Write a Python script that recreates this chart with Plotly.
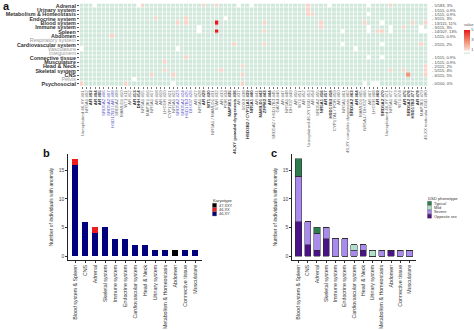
import plotly.graph_objects as go

W, H = 474, 330


def fx(p):
    return p / W


def fy(p):
    return 1 - p / H


# ---------------- panel a: anomaly heatmap ----------------
ROW_NAMES = ["Adrenal", "Urinary system", "Metabolism & Homeostasis", "Endocrine system",
             "Blood system", "Immune system", "Spleen", "Abdomen", "Respiratory system",
             "Cardiovascular system", "Vasculature", "Integument", "Connective tissue",
             "Musculature", "Head & Neck", "Skeletal system", "CNS", "Pelvis", "Psychosocial"]
GREY_ROWS = ["Respiratory system", "Vasculature", "Integument", "Pelvis"]

ROW_COUNTS = {
    "Adrenal": "5/183, 3%", "Urinary system": "1/115, 0.9%",
    "Metabolism & Homeostasis": "1/115, 0.9%", "Endocrine system": "3/115, 3%",
    "Blood system": "13/115, 11%", "Immune system": "3/115, 3%",
    "Spleen": "14/107, 13%", "Abdomen": "1/115, 0.9%",
    "Cardiovascular system": "2/115, 2%", "Connective tissue": "1/115, 0.9%",
    "Musculature": "1/115, 0.9%", "Head & Neck": "2/115, 2%",
    "Skeletal system": "5/115, 4%", "CNS": "6/115, 5%", "Psychosocial": "0/100, 0%",
}

COLUMN_LABELS = [
    "Unexplained 46,XY #01", "NR5A1 #02", "AR #03", "AR #04", "AR #05", "SRD5A2 #06",
    "SRD5A2 #07", "HSD17B3 / AR #08", "SRD5A2 #09", "MAMLD1 #10", "WT1 #11", "AR #12",
    "AR #13", "DHH #14", "NR5A1 #15", "MAP3K1 #16", "NR5A1 #17", "AR #18", "AR #19",
    "LHCGR #20", "CYP17A1 #21", "NR5A1 #22", "SRD5A2 #23", "SRD5A2 #24", "HSD17B3 #25",
    "DHX37 #26", "AR #27", "NR5A1 #28", "AR #29", "WT1 #30", "NR5A1 / MAMLD1 #31",
    "STAR #32", "AR #33", "POR #34", "MAP3K1 #35", "46,XY gonadal dysgenesis #36",
    "AR #37", "SOX9 #38", "HSD3B2 / CYP11A1 #39", "NR5A1 #40", "AR #41", "MAMLD1 #42",
    "ZFPM2 #43", "AR #44", "SRD5A2 / HSD17B3 #45", "GATA4 #46", "AR #47", "NR5A1 #48",
    "DHX37 #49", "AR #50", "WT1 #51", "AR #52", "Unexplained 46,XY DSD #53", "AR #54",
    "SRD5A2 #55", "NR5A1 #56", "AR #57", "HSD17B3 #58", "CYP17A1 / POR #59", "AR #60",
    "NR5A1 #61", "46,XY complete dysgenesis #62", "SRD5A2 #63", "AR #64", "MAMLD1 #65",
    "NR5A1 / DHX37 #66", "AR #67", "LHCGR #68", "AR #69", "SRD5A2 #70",
    "Unexplained 46,XY #71", "NR5A1 #72", "AR #73", "WT1 #74", "AR #75", "SRD5A2 #76",
    "HSD17B3 #77", "AR #78", "MAP3K1 #79", "46,XX testicular DSD #80",
]
BLUE_COLUMNS = [5, 6, 7, 22, 23, 24, 25]
BOLD_COLUMNS = [2, 3, 4, 12, 13, 28, 29, 34, 35, 38, 39, 41, 42, 43, 55, 56, 57, 62,
                63, 68, 69, 74, 75, 76, 77]

# (row, column) of cells with a recorded anomaly; everything else is 0
MILD_CELLS = [(0, 14), (3, 17), (7, 7), (18, 0), (18, 10), (16, 16), (0, 28), (0, 31),
              (0, 52), (4, 22), (3, 24), (4, 24), (4, 42), (6, 42), (9, 42), (9, 35),
              (12, 24), (13, 19), (15, 19), (16, 21), (15, 32), (14, 37), (16, 37),
              (18, 37), (2, 52), (0, 71), (1, 52), (2, 53), (4, 55), (5, 55), (4, 65),
              (6, 68), (6, 69), (5, 74), (4, 76), (4, 79), (9, 78), (15, 71), (15, 74),
              (14, 79), (15, 79), (16, 79)]
MEDIUM_CELLS = [(16, 75)]
STRONG_CELLS = [(4, 31), (6, 31)]
EMPTY_CELLS = [(0, 3), (0, 13), (10, 0), (17, 12), (0, 36), (0, 39), (3, 33), (5, 27),
               (6, 27), (10, 22), (18, 21), (0, 57), (0, 66), (2, 66), (5, 66), (6, 66),
               (4, 69), (5, 71), (6, 71), (5, 78), (6, 78), (6, 79), (6, 60), (9, 60),
               (9, 69), (10, 63), (12, 66), (12, 69), (18, 65), (18, 67), (18, 68)]
MILD_VALUE, MEDIUM_VALUE, STRONG_VALUE = 1, 2.5, 5

# ---------------- panels b and c: stacked counts ----------------
CATEGORIES = ["Blood system & Spleen", "CNS", "Adrenal", "Skeletal system",
              "Immune system", "Endocrine system", "Cardiovascular system",
              "Head & Neck", "Urinary system", "Metabolism & Homeostasis",
              "Abdomen", "Connective tissue", "Musculature"]

KARYO_46XY = [16, 6, 4, 5, 3, 3, 2, 2, 1, 1, 0, 1, 1]
KARYO_46XX = [1, 0, 1, 0, 0, 0, 0, 0, 0, 0, 0, 0, 0]
KARYO_47XXY = [0, 0, 0, 0, 0, 0, 0, 0, 0, 0, 1, 0, 0]

DSD_OPPOSITE = [6, 2, 1, 3, 0, 0, 0, 1, 0, 0, 1, 0, 0]
DSD_SEVERE = [8, 4, 3, 2, 3, 3, 1, 1, 0, 1, 0, 1, 1]
DSD_MILD = [0, 0, 0, 0, 0, 0, 1, 0, 1, 0, 0, 0, 0]
DSD_TYPICAL = [3, 0, 1, 0, 0, 0, 0, 0, 0, 0, 0, 0, 0]

KARYO_SERIES = [("46,XY", KARYO_46XY, "#00007F"), ("46,XX", KARYO_46XX, "#EE1C1C"),
                ("47,XXY", KARYO_47XXY, "#000000")]
DSD_SERIES = [("Opposite sex", DSD_OPPOSITE, "#4A1486"), ("Severe", DSD_SEVERE, "#A98BEE"),
              ("Mild", DSD_MILD, "#AEE0CC"), ("Typical", DSD_TYPICAL, "#2E7D4F")]

FONT = "Liberation Sans"

# build the heatmap matrix
n_rows, n_cols = len(ROW_NAMES), len(COLUMN_LABELS)
z = [[0.0] * n_cols for _ in range(n_rows)]
for r, c in MILD_CELLS:
    z[r][c] = MILD_VALUE
for r, c in MEDIUM_CELLS:
    z[r][c] = MEDIUM_VALUE
for r, c in STRONG_CELLS:
    z[r][c] = STRONG_VALUE
for r, c in EMPTY_CELLS:
    z[r][c] = None

col_text = []
for i, lab in enumerate(COLUMN_LABELS):
    if i in BLUE_COLUMNS:
        col_text.append(f"<span style='color:#5A55C8'>{lab}</span>")
    elif i in BOLD_COLUMNS:
        col_text.append(f"<b><span style='color:#333'>{lab}</span></b>")
    else:
        col_text.append(lab)

row_text = []
for name in ROW_NAMES:
    if name in GREY_ROWS:
        row_text.append(f"<span style='color:#9a9a9a'>{name}</span>")
    else:
        row_text.append(f"<b>{name}</b>")

fig = go.Figure()

fig.add_trace(go.Heatmap(
    z=z, x=list(range(n_cols)), y=list(range(n_rows)),
    zmin=0, zmax=STRONG_VALUE,
    colorscale=[[0, "#D0E8DB"], [0.1, "#FFFFFF"], [0.2, "#F8D3C7"],
                [0.55, "#F18A70"], [1, "#E3191B"]],
    xgap=0.7, ygap=0.7, hoverongaps=False,
    colorbar=dict(x=fx(464), xanchor="left", y=fy(20), yanchor="top",
                  len=34, lenmode="pixels", thickness=6, outlinewidth=0,
                  xpad=0, ypad=0,
                  ticks="", tickfont=dict(size=4, color="#555"),
                  tickvals=[1, 3, 5],
                  title=dict(text="value", font=dict(size=4, color="#555"), side="top")),
    xaxis="x", yaxis="y",
))

for name, vals, color in KARYO_SERIES:
    fig.add_trace(go.Bar(x=CATEGORIES, y=vals, name=name, marker_color=color,
                         marker_line_width=0, width=0.66, showlegend=False,
                         xaxis="x2", yaxis="y2"))

for name, vals, color in DSD_SERIES:
    fig.add_trace(go.Bar(x=CATEGORIES, y=vals, name=name, marker_color=color,
                         marker_line=dict(color="#2a2a2a", width=0.5), width=0.66,
                         showlegend=False, xaxis="x3", yaxis="y3"))

bar_xaxis = dict(type="category", range=[-0.7, len(CATEGORIES) - 0.3], tickangle=-90,
                 tickfont=dict(size=5.3, color="#333"), ticks="outside", ticklen=2,
                 tickwidth=0.5, tickcolor="#333", showline=True, linecolor="#222",
                 linewidth=0.6, showgrid=False, zeroline=False, automargin=False)
bar_yaxis = dict(range=[-0.7, 17.85], tickvals=[0, 5, 10, 15],
                 tickfont=dict(size=5, color="#444"), ticks="outside", ticklen=2,
                 tickwidth=0.5, tickcolor="#333", showline=True, linecolor="#222",
                 linewidth=0.6, showgrid=False, zeroline=False, automargin=False,
                 title=dict(text="Number of individuals with anomaly",
                            font=dict(size=5, color="#333"), standoff=4))

fig.update_layout(
    width=W, height=H, margin=dict(l=0, r=0, t=0, b=0, autoexpand=False),
    paper_bgcolor="white", plot_bgcolor="white",
    font=dict(family=FONT, color="#333"),
    barmode="stack", showlegend=False,
    xaxis=dict(domain=[fx(80), fx(428)], range=[-0.5, n_cols - 0.5], anchor="y",
               tickmode="array", tickvals=list(range(n_cols)), ticktext=col_text,
               tickangle=-90, tickfont=dict(size=4.4, color="#666"), ticks="outside",
               ticklen=1.5, tickwidth=0.4, tickcolor="#777", showgrid=False,
               zeroline=False, showline=False, automargin=False),
    yaxis=dict(domain=[fy(86), fy(3.5)], range=[n_rows - 0.5, -0.5], anchor="x",
               tickmode="array", tickvals=list(range(n_rows)), ticktext=row_text,
               tickfont=dict(size=5.4, color="#333"), ticks="outside", ticklen=2,
               tickwidth=0.4, tickcolor="#555", showgrid=False, zeroline=False,
               automargin=False),
    xaxis2=dict(domain=[fx(68), fx(202)], anchor="y2", **bar_xaxis),
    yaxis2=dict(domain=[fy(260), fy(154)], anchor="x2", **bar_yaxis),
    xaxis3=dict(domain=[fx(292), fx(416)], anchor="y3", **bar_xaxis),
    yaxis3=dict(domain=[fy(260), fy(154)], anchor="x3", **bar_yaxis),
)

annotations = []
for i, name in enumerate(ROW_NAMES):
    if name in ROW_COUNTS:
        annotations.append(dict(x=fx(430), xref="paper", y=i, yref="y", xanchor="left",
                                yanchor="middle", showarrow=False,
                                text="- " + ROW_COUNTS[name],
                                font=dict(size=4, color="#444")))

for label, px, py in [("a", 2, 6), ("b", 42, 153), ("c", 270, 153)]:
    annotations.append(dict(x=fx(px), y=fy(py), xref="paper", yref="paper", xanchor="left",
                            yanchor="middle", showarrow=False, text=f"<b>{label}</b>",
                            font=dict(size=11, color="#111"), borderpad=0))

shapes = []


def add_legend(title, entries, x0, y0, step):
    annotations.append(dict(x=fx(x0), y=fy(y0), xref="paper", yref="paper",
                            xanchor="left", yanchor="middle", showarrow=False,
                            text=title, font=dict(size=4.2, color="#333"),
                            borderpad=0))
    for k, (name, color) in enumerate(entries):
        yc = y0 + 1 + step * (k + 1)
        shapes.append(dict(type="rect", xref="paper", yref="paper",
                           x0=fx(x0 + 0.5), x1=fx(x0 + 4.5), y0=fy(yc + 2),
                           y1=fy(yc - 2), fillcolor=color,
                           line=dict(color="#333", width=0.3)))
        annotations.append(dict(x=fx(x0 + 6), y=fy(yc), xref="paper", yref="paper",
                                xanchor="left", yanchor="middle", showarrow=False,
                                text=name, font=dict(size=3.9, color="#333"),
                                borderpad=0))


add_legend("Karyotype", [(n, c) for n, _, c in reversed(KARYO_SERIES)], 212, 200, 4.3)
add_legend("DSD phenotype", [(n, c) for n, _, c in reversed(DSD_SERIES)], 427, 198, 4.3)

fig.update_layout(annotations=annotations, shapes=shapes)

fig.write_html("out.html")
